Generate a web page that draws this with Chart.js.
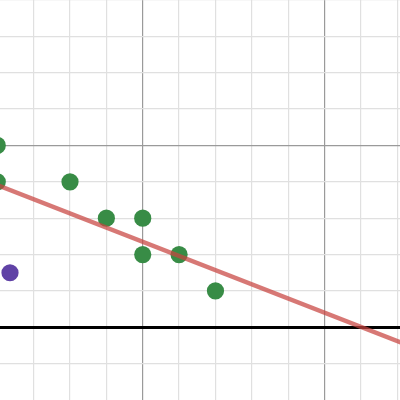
<!DOCTYPE html>
<html><head><meta charset="utf-8">
<script src="https://cdn.jsdelivr.net/npm/chart.js@4"></script>
<style>html,body{margin:0;padding:0;background:#fff}canvas{display:block}</style>
</head><body>
<canvas id="c" width="400" height="400"></canvas>
<script>
const greenX = [1, 3, 4, 5, 5, 6, 7, 1];
const greenY = [4, 4, 3, 3, 2, 2, 1, 5];
const purpleX = [1.35];
const purpleY = [1.5];
const lineX = [1, 12.5];
const lineY = [3.91, -0.575];
const xGridValues = [2, 3, 4, 5, 6, 7, 8, 9, 10, 11, 12];
const yGridValues = [-1, 0, 1, 2, 3, 4, 5, 6, 7, 8, 9];

const xMin = 1.075, xMax = 12.075, yMin = -2, yMax = 9;

function pts(xs, ys){ return xs.map((x,i)=>({x:x,y:ys[i]})); }
function gridColor(c){ const v=c.tick.value; if(v===0) return '#000'; return v%5===0 ? '#9a9a9a' : '#e0e0e0'; }
function gridWidth(c){ return c.tick.value===0 ? 3 : 1.2; }

new Chart(document.getElementById('c'), {
  data: {
    datasets: [
      { type:'line', data: pts(lineX, lineY), borderColor:'rgba(199,68,64,0.72)', borderWidth:4.6, pointRadius:0, fill:false, tension:0 },
      { type:'scatter', data: pts(purpleX, purpleY), backgroundColor:'#6042a6', borderWidth:0, pointRadius:8.6 },
      { type:'scatter', data: pts(greenX, greenY), backgroundColor:'#388c46', borderWidth:0, pointRadius:8.6 }
    ]
  },
  options: {
    responsive:false, animation:false, devicePixelRatio:1,
    layout:{padding:0, autoPadding:false},
    plugins:{legend:{display:false}, tooltip:{enabled:false}},
    scales:{
      x:{ type:'linear', min:xMin, max:xMax, ticks:{display:false, autoSkip:false}, border:{display:false},
          afterBuildTicks:(s)=>{ s.ticks = xGridValues.map(v=>({value:v})); },
          grid:{ drawTicks:false, color:gridColor, lineWidth:gridWidth } },
      y:{ type:'linear', min:yMin, max:yMax, ticks:{display:false, autoSkip:false}, border:{display:false},
          afterBuildTicks:(s)=>{ s.ticks = yGridValues.map(v=>({value:v})); },
          grid:{ drawTicks:false, color:gridColor, lineWidth:gridWidth } }
    }
  }
});
</script>
</body></html>
